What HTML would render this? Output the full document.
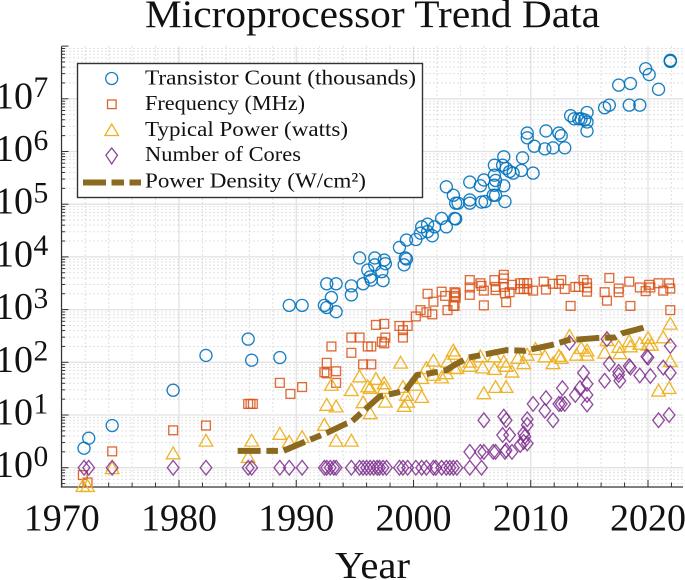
<!DOCTYPE html>
<html lang="en">
<head>
<meta charset="utf-8">
<title>Microprocessor Trend Data</title>
<style>
html,body{margin:0;padding:0;background:#fff;width:685px;height:580px;overflow:hidden}
svg{display:block}
text{font-family:"Liberation Serif",serif;fill:#111}
</style>
</head>
<body>
<svg id="chart" width="685" height="580" viewBox="0 0 685 580" xmlns="http://www.w3.org/2000/svg">
  <g id="grid"></g>
  <g id="axes"></g>
  <g id="marks"></g>
  <text x="145" y="27" font-size="39" textLength="455" lengthAdjust="spacingAndGlyphs">Microprocessor Trend Data</text>
  <text x="335" y="578" font-size="38" textLength="75" lengthAdjust="spacingAndGlyphs">Year</text>
  <g>
    <rect x="77.5" y="63.5" width="345" height="134" fill="#fff" stroke="#333" stroke-width="1.4"/>
    <g>
      <circle cx="111.7" cy="78.5" r="6" fill="none" stroke="#0072BD" stroke-width="1.3" opacity=".9"/>
      <text x="145" y="84.5" font-size="21" textLength="271" lengthAdjust="spacingAndGlyphs">Transistor Count (thousands)</text>
    </g>
    <g>
      <rect x="107.5" y="100" width="8.6" height="8.6" fill="none" stroke="#D95319" stroke-width="1.3" opacity=".9"/>
      <text x="145" y="110" font-size="21" textLength="160" lengthAdjust="spacingAndGlyphs">Frequency (MHz)</text>
    </g>
    <g>
      <polygon points="111.7,124 118.5,135.5 104.9,135.5" fill="none" stroke="#EDB120" stroke-width="1.3"/>
      <text x="145" y="136" font-size="21" textLength="203" lengthAdjust="spacingAndGlyphs">Typical Power (watts)</text>
    </g>
    <g>
      <polygon points="111.7,148 117.5,155.2 111.7,164 105.9,155.2" fill="none" stroke="#7E2F8E" stroke-width="1.3" opacity=".9"/>
      <text x="145" y="161" font-size="21" textLength="156" lengthAdjust="spacingAndGlyphs">Number of Cores</text>
    </g>
    <g>
      <line x1="83" y1="182.5" x2="141" y2="182.5" stroke="#8B6A1F" stroke-width="6" stroke-dasharray="23 5.5 12.5 5.5"/>
      <text x="145" y="187.5" font-size="21" textLength="221" lengthAdjust="spacingAndGlyphs">Power Density (W/cm²)</text>
    </g>
  </g>
</svg>
<script>
// Tick labels
const xTickYears = [1970, 1980, 1990, 2000, 2010, 2020];
const yTickExponents = [0, 1, 2, 3, 4, 5, 6, 7];

// Series values: year of release and log10 of the measured value
const transistorYears = [1971.9,1972.3,1974.3,1979.5,1982.3,1985.9,1986.2,1988.6,1989.4,1990.5,1992.4,1992.6,1993.4,1993.0,1992.6,1993.4,1994.7,1994.7,1995.7,1996.4,1996.1,1996.3,1997.4,1997.3,1997.6,1996.7,1995.4,1996.7,1997.5,1999.2,1999.3,1999.4,1998.8,1999.4,2000.2,2000.6,2000.7,2001.2,2001.2,2001.6,2001.8,2002.8,2002.4,2003.5,2002.8,2003.4,2003.6,2003.8,2003.6,2004.8,2004.8,2004.8,2006.0,2005.7,2005.8,2006.1,2006.9,2006.9,2007.0,2006.9,2007.7,2006.8,2007.0,2007.8,2007.7,2007.6,2007.9,2008.2,2008.5,2009.2,2009.3,2010.2,2009.7,2009.7,2010.3,2011.2,2011.3,2011.9,2012.4,2012.6,2012.9,2013.4,2013.7,2014.1,2014.3,2014.6,2014.8,2014.8,2014.8,2016.3,2016.7,2017.5,2018.5,2018.4,2019.3,2019.8,2020.1,2020.9,2021.9,2021.9,2021.9];
const transistorLog10 = [0.37,0.56,0.80,1.47,2.13,2.44,2.04,2.09,3.08,3.08,3.08,3.49,3.49,3.23,3.04,2.96,3.45,3.28,3.49,3.56,3.75,3.62,3.55,3.72,3.87,3.85,3.98,3.98,3.94,3.85,3.98,3.96,4.18,4.32,4.33,4.45,4.57,4.62,4.48,4.40,4.57,4.57,4.73,4.73,5.33,5.17,5.02,5.02,4.72,5.42,5.08,5.02,5.46,5.35,5.04,5.05,5.74,5.55,5.45,5.36,5.35,5.17,5.17,5.05,5.90,5.74,5.68,5.62,5.59,5.64,5.88,5.59,6.35,6.26,6.10,6.05,6.39,6.07,6.35,6.30,6.07,6.68,6.62,6.62,6.62,6.60,6.74,6.56,6.39,6.83,6.88,7.26,7.29,6.88,6.88,7.57,7.46,7.18,7.72,7.73,7.71];

const frequencyYears = [1971.8,1972.2,1974.3,1979.5,1982.3,1985.9,1986.1,1986.3,1988.6,1989.5,1990.5,1992.4,1992.6,1992.6,1993.4,1993.4,1993.0,1994.7,1995.4,1994.7,1995.7,1996.4,1996.1,1996.4,1996.8,1997.5,1997.6,1997.3,1997.5,1998.8,1999.5,1999.1,1999.1,2000.2,2000.6,2001.1,2001.6,2001.2,2001.7,2002.4,2002.7,2002.9,2003.4,2003.5,2003.5,2003.6,2003.6,2003.5,2004.8,2004.8,2004.8,2005.7,2005.8,2006.0,2006.0,2006.9,2007.0,2007.0,2007.7,2007.7,2007.7,2007.8,2008.2,2007.9,2008.4,2009.1,2009.4,2009.7,2009.1,2009.4,2009.7,2010.2,2011.1,2011.3,2011.9,2012.4,2012.6,2012.9,2013.4,2013.8,2014.1,2014.5,2014.8,2014.8,2014.8,2016.3,2016.5,2016.7,2017.5,2017.5,2018.4,2018.5,2019.3,2019.8,2020.1,2020.2,2020.9,2021.3,2021.8,2021.9,2021.9];
const frequencyLog10 = [-0.14,-0.28,0.31,0.71,0.80,1.21,1.21,1.21,1.61,1.40,1.53,1.81,1.79,1.99,1.83,1.61,2.30,2.47,2.47,2.18,1.96,1.96,2.30,2.30,2.71,2.73,2.47,2.39,2.36,2.69,2.69,2.61,2.47,2.87,2.99,2.95,2.91,3.30,3.15,3.34,3.26,2.99,3.07,3.33,3.26,3.31,3.23,3.07,3.56,3.42,3.28,3.50,3.45,3.36,3.08,3.56,3.43,3.37,3.66,3.59,3.43,3.31,3.33,3.14,3.47,3.50,3.50,3.50,3.39,3.39,3.39,3.36,3.53,3.38,3.49,3.49,3.56,3.39,3.07,3.43,3.43,3.56,3.50,3.42,3.34,3.33,3.17,3.60,3.40,3.33,3.53,3.07,3.42,3.35,3.47,3.42,3.50,3.36,3.50,3.40,2.99];

const powerYears = [1971.8,1972.2,1974.3,1979.5,1982.3,1986.2,1985.9,1988.6,1989.4,1990.5,1992.4,1992.6,1993.4,1993.4,1993.0,1994.7,1994.7,1995.4,1995.7,1996.1,1996.3,1996.3,1996.8,1997.5,1997.5,1997.6,1998.9,1999.1,1999.4,1999.5,1999.2,2000.2,2000.7,2000.7,2001.1,2001.7,2001.7,2002.4,2002.9,2002.8,2003.4,2003.5,2003.5,2003.7,2004.8,2004.8,2005.7,2005.9,2006.0,2006.9,2006.9,2007.0,2007.9,2007.7,2007.9,2008.4,2008.9,2009.4,2009.7,2010.4,2011.2,2011.9,2012.4,2012.6,2013.3,2013.9,2014.3,2014.8,2014.8,2016.3,2016.5,2017.5,2017.6,2018.4,2018.5,2019.3,2020.0,2020.0,2020.3,2020.9,2021.3,2021.8,2021.9,2021.9];
const powerLog10 = [-0.35,-0.35,-0.01,0.27,0.51,0.51,0.20,0.64,0.49,0.58,0.81,1.19,1.16,0.51,1.57,1.47,0.51,1.73,1.24,1.54,1.51,1.03,1.68,1.60,1.51,1.25,1.99,1.53,1.38,1.25,1.17,1.57,1.34,1.70,1.89,2.03,1.76,1.71,2.01,1.79,2.22,1.89,2.16,1.89,2.01,1.93,2.11,1.90,1.41,2.11,1.87,1.53,1.53,2.01,1.93,1.82,2.08,1.98,2.14,2.25,2.11,1.98,2.12,2.08,2.50,2.14,2.27,2.22,2.14,2.18,2.42,2.29,2.17,2.40,2.30,2.35,2.46,2.33,2.33,1.46,2.47,1.51,2.73,2.02];

const coreYears = [1971.9,1972.3,1974.3,1979.5,1982.3,1985.9,1986.2,1988.6,1989.4,1990.5,1992.4,1992.6,1992.9,1993.2,1993.4,1994.7,1995.4,1995.7,1996.0,1996.3,1996.6,1996.9,1997.1,1997.4,1997.7,1998.8,1999.1,1999.5,2000.2,2000.7,2001.1,2001.7,2001.9,2002.4,2002.8,2003.1,2003.4,2003.7,2004.8,2005.8,2004.8,2005.7,2006.0,2006.0,2006.8,2007.0,2007.7,2007.9,2007.6,2008.2,2007.8,2007.9,2008.4,2009.1,2009.4,2009.5,2009.4,2009.7,2009.7,2009.7,2010.2,2011.2,2011.3,2011.9,2012.4,2012.6,2012.9,2012.7,2013.8,2014.2,2014.5,2014.8,2014.8,2014.8,2013.3,2016.3,2016.5,2016.7,2017.5,2017.5,2017.6,2018.4,2018.5,2019.3,2019.9,2020.0,2020.2,2020.9,2021.3,2021.8,2021.9,2021.9];
const coreLog10 = [0,0,0,0,0,0,0,0,0,0,0,0,0,0,0,0,0,0,0,0,0,0,0,0,0,0,0,0,0,0,0,0,0,0,0,0,0,0,0,0,0.30,0.30,0.30,0.90,0.30,0.30,0.97,0.90,0.62,0.62,0.30,0.33,0.30,0.43,0.65,0.59,0.49,0.46,0.92,0.81,1.21,1.08,1.32,0.90,1.21,1.21,1.21,1.51,1.38,1.51,1.80,1.59,1.38,1.20,2.37,1.65,2.44,1.97,1.82,1.76,1.65,1.93,1.90,1.75,2.11,2.09,1.74,0.90,1.90,1.00,2.31,1.80];

const densityYears = [1985.0,1988.9,1990.5,1992.6,1994.2,1994.7,1996.0,1997.1,1999.3,2000.3,2001.1,2002.8,2003.5,2004.7,2007.9,2009.5,2011.8,2013.2,2015.6,2017.2,2017.8,2019.5,2020.0];
const densityLog10 = [0.32,0.32,0.47,0.66,0.83,0.87,1.13,1.35,1.46,1.76,1.78,1.85,1.95,2.09,2.23,2.22,2.33,2.42,2.46,2.47,2.55,2.65,2.69];

// Axis functions
const plotLeft = 61.5, plotRight = 683, plotTop = 46.5, plotBottom = 487;
function xScale(year) { return 61.75 + (year - 1970) * 11.725; }
function yScale(logValue) { return 467.7 - logValue * 52.7; }

const NS = 'http://www.w3.org/2000/svg';
function make(tag, attrs, parent) {
  const el = document.createElementNS(NS, tag);
  for (const k in attrs) el.setAttribute(k, attrs[k]);
  parent.appendChild(el);
  return el;
}
const grid = document.getElementById('grid');
const axes = document.getElementById('axes');
const marks = document.getElementById('marks');

// Minor grid and ticks
for (let yr = 1970; yr <= 2022; yr += 2) {
  const x = xScale(yr);
  const major = yr % 10 === 0;
  const g = make('line', {x1: x, x2: x, y1: plotTop, y2: plotBottom, stroke: major ? '#e2e2e2' : '#c4c4c4', 'stroke-width': major ? 1.3 : 1, 'stroke-dasharray': major ? 'none' : '1 3'}, grid);
  
  
  const t = make('line', {x1: x, x2: x, y1: plotBottom, y2: plotBottom - (major ? 7 : 4.5), stroke: '#333', 'stroke-width': 1}, axes);
  
  
}
for (let d = -1; d <= 7; d++) {
  for (let m = 1; m <= 9; m++) {
    const lv = d + Math.log10(m);
    const y = yScale(lv);
    if (y > plotBottom || y < plotTop) continue;
    const major = m === 1;
    const g = make('line', {x1: plotLeft, x2: plotRight, y1: y, y2: y, stroke: major ? '#e2e2e2' : '#c4c4c4', 'stroke-width': major ? 1.3 : 1, 'stroke-dasharray': major ? 'none' : '1 3'}, grid);
    
    
    const t = make('line', {x1: plotLeft, x2: plotLeft + (major ? 7 : 3.5), y1: y, y2: y, stroke: '#333', 'stroke-width': 1}, axes);
    
    
  }
}
const topTick = make('line', {x1: plotLeft, x2: plotLeft + 7, y1: yScale(8), y2: yScale(8), stroke: '#333', 'stroke-width': 1}, axes);



// Axis lines
const yAxisLine = make('line', {x1: plotLeft, x2: plotLeft, y1: plotTop, y2: plotBottom + 0.6, stroke: '#333', 'stroke-width': 1.2}, axes);


const xAxisLine = make('line', {x1: plotLeft, x2: plotRight, y1: plotBottom, y2: plotBottom, stroke: '#333', 'stroke-width': 1.2}, axes);



// Tick labels
xTickYears.forEach(function (yr) {
  const t = make('text', {x: xScale(yr), y: 530.7, 'font-size': 38, 'text-anchor': 'middle'}, axes);
  
  
  t.textContent = String(yr);
});
yTickExponents.forEach(function (exp) {
  const y = yScale(exp);
  const t = make('text', {x: 33, y: y + 9.5, 'font-size': 38, 'text-anchor': 'end'}, axes);
  
  
  t.textContent = '10';
  const e = make('text', {x: 33.5, y: y - 1.7, 'font-size': 29.5}, axes);
  
  
  e.textContent = String(exp);
});

// Series
transistorYears.forEach(function (yr, i) {
  const c = make('circle', {cx: xScale(yr), cy: yScale(transistorLog10[i]), r: 6, fill: 'none', stroke: '#0072BD', 'stroke-width': 1.35, opacity: .9}, marks);
  
  
});
frequencyYears.forEach(function (yr, i) {
  const s = 4.4;
  const r = make('rect', {x: xScale(yr) - s, y: yScale(frequencyLog10[i]) - s, width: 2 * s, height: 2 * s, fill: 'none', stroke: '#D95319', 'stroke-width': 1.35, opacity: .85}, marks);
  
  
});
powerYears.forEach(function (yr, i) {
  const x = xScale(yr), y = yScale(powerLog10[i]);
  const p = make('polygon', {points: x + ',' + (y - 6.5) + ' ' + (x + 6.8) + ',' + (y + 5.3) + ' ' + (x - 6.8) + ',' + (y + 5.3), fill: 'none', stroke: '#EDB120', 'stroke-width': 1.35, opacity: .95}, marks);
  
  
});
coreYears.forEach(function (yr, i) {
  const x = xScale(yr), y = yScale(coreLog10[i]);
  const p = make('polygon', {points: x + ',' + (y - 7.3) + ' ' + (x + 5.8) + ',' + y + ' ' + x + ',' + (y + 7.3) + ' ' + (x - 5.8) + ',' + y, fill: 'none', stroke: '#7E2F8E', 'stroke-width': 1.35, opacity: .85}, marks);
  
  
});
const densityPoints = densityYears.map(function (yr, i) { return xScale(yr) + ',' + yScale(densityLog10[i]); }).join(' ');
const densityLine = make('polyline', {points: densityPoints, fill: 'none', stroke: '#8B6A1F', 'stroke-width': 6, 'stroke-dasharray': '23 5.8 11.5 5.8', 'stroke-linejoin': 'round'}, marks);


</script>
</body>
</html>
